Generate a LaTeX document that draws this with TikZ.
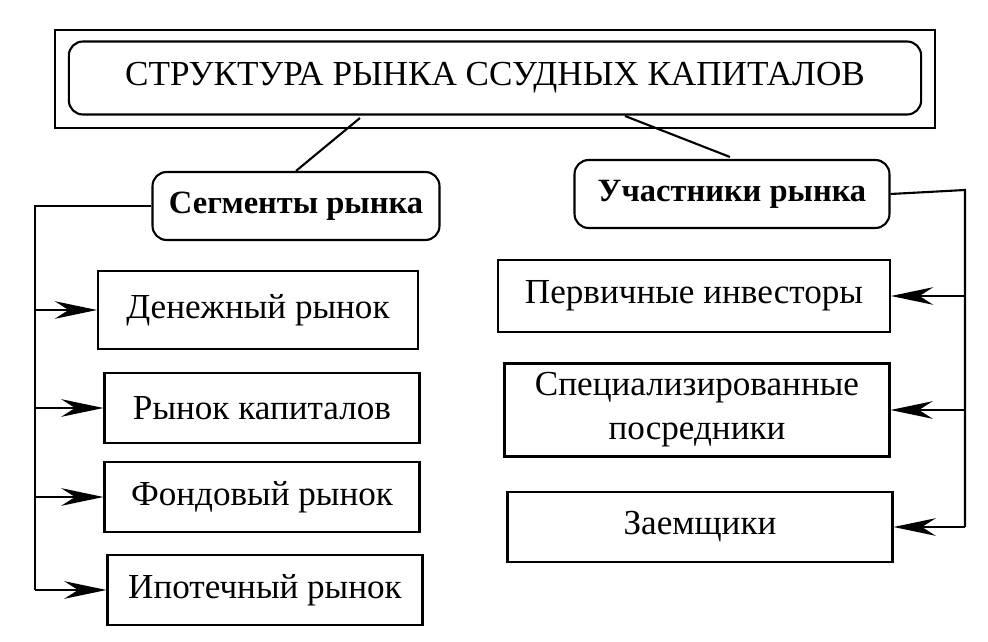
\documentclass[tikz,border=0pt]{standalone}
\usepackage{fontspec}
\setmainfont{Liberation Serif}
\usetikzlibrary{arrows.meta}
\tikzset{
  item/.style={rectangle, draw, line width=1.2pt, inner sep=2pt, align=center, font=\fontsize{20}{25}\selectfont},
  head/.style={rectangle, draw, line width=1.2pt, rounded corners=8pt, align=center, font=\bfseries\fontsize{18.5}{22}\selectfont},
  link/.style={line width=1.2pt},
  feed/.style={line width=1.2pt, -{Stealth[length=24pt,width=10pt]}}
}
\begin{document}
\begin{tikzpicture}[x=0.02cm, y=-0.02cm]
  \useasboundingbox (0,0) rectangle (988,642);

  % title
  \node [draw, line width=1.2pt, minimum width=17.6cm, minimum height=1.96cm] (frame) at (495,79) {};
  \node [head, minimum width=17.05cm, minimum height=1.46cm, font=\fontsize{20}{24}\selectfont] (title) at (495,78) {СТРУКТУРА РЫНКА ССУДНЫХ КАПИТАЛОВ};

  \node [head, minimum width=5.74cm, minimum height=1.36cm] (seg) at (296,206) {Сегменты рынка};
  \node [head, minimum width=6.3cm, minimum height=1.36cm] (part) at (732,194) {Участники рынка};

  % segments
  \node [item, minimum width=6.4cm, minimum height=1.56cm] (s1) at (258,310) {Денежный рынок};
  \node [item, minimum width=6.3cm, minimum height=1.4cm] (s2) at (262,408) {Рынок капиталов};
  \node [item, minimum width=6.3cm, minimum height=1.4cm] (s3) at (262,497) {Фондовый рынок};
  \node [item, minimum width=6.3cm, minimum height=1.4cm] (s4) at (265,590) {Ипотечный рынок};

  % participants
  \node [item, minimum width=7.84cm, minimum height=1.44cm] (p1) at (694,296) {Первичные инвесторы};
  \node [item, minimum width=7.7cm, minimum height=1.86cm] (p2) at (697,410) {Специализированные\\посредники};
  \node [item, minimum width=7.7cm, minimum height=1.4cm] (p3) at (700,527) {Заемщики};

  \coordinate (lt) at (35,206);
  \coordinate (rt) at (965,190);

  \draw [link] (360,118) -- (seg.north);
  \draw [link] (625,116) -- (730,157);

  \draw [link] (seg.west) -- (lt) -- (lt |- s4);
  \foreach \n in {s1,s2,s3,s4}
    \draw [feed] (lt |- \n) -- (\n.west);

  \draw [link] (part.east) -- (rt) -- (rt |- p3);
  \foreach \n in {p1,p2,p3}
    \draw [feed] (rt |- \n) -- (\n.east);
\end{tikzpicture}
\end{document}
